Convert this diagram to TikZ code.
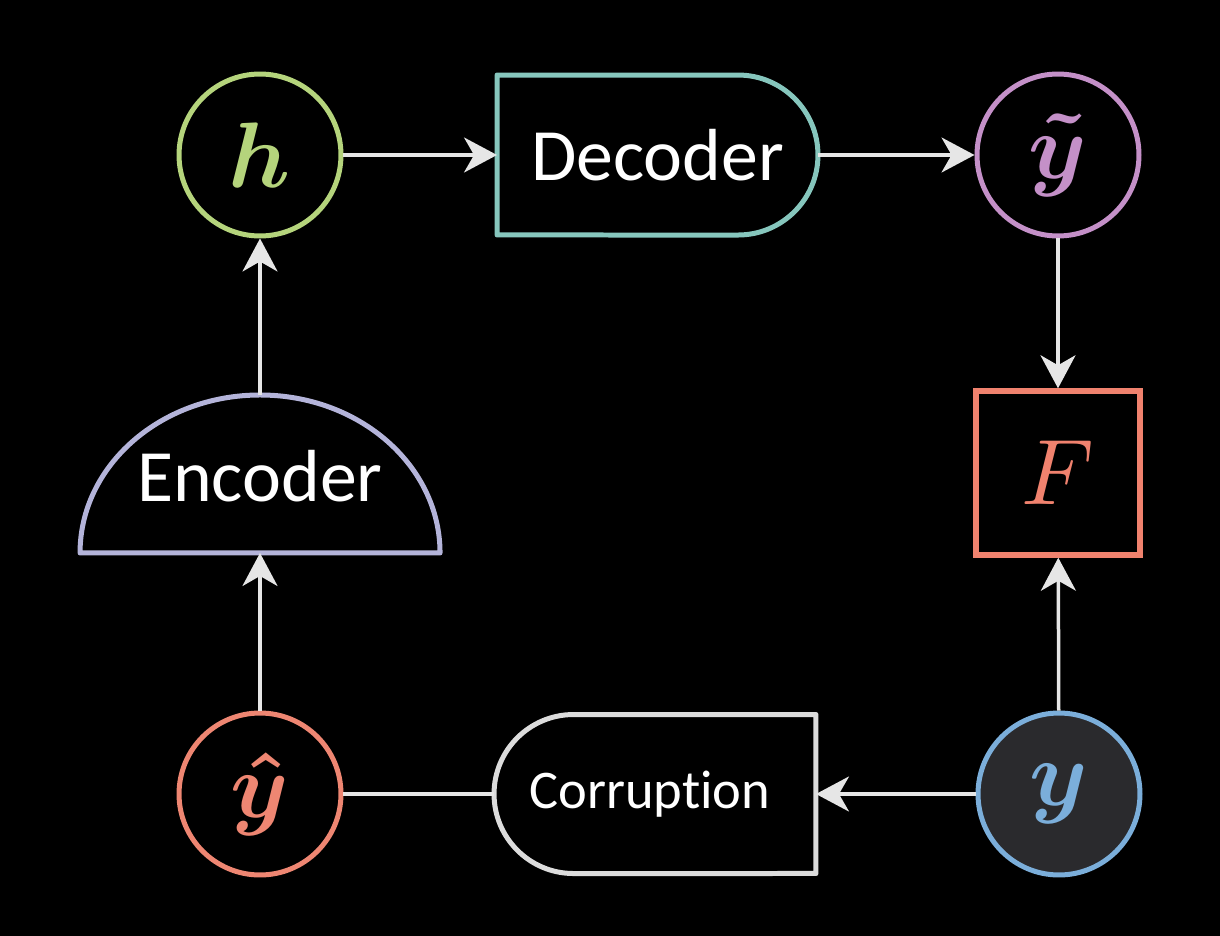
\documentclass[tikz,border=0pt]{standalone}
\usepackage{amsmath}
\usepackage{graphicx}
\usepackage{fontspec}
\setmainfont{Carlito}[Ligatures=NoCommon]
\usetikzlibrary{arrows.meta,calc}
\definecolor{hgreen}{HTML}{B5D47C}
\definecolor{decteal}{HTML}{86C6BD}
\definecolor{ytpurple}{HTML}{C490C8}
\definecolor{fsalmon}{HTML}{F0826E}
\definecolor{yblue}{HTML}{7BAEDA}
\definecolor{yfill}{HTML}{2A2A2D}
\definecolor{yhsalmon}{HTML}{EE8672}
\definecolor{corgrey}{HTML}{DCDCDC}
\definecolor{enclav}{HTML}{B4B4DA}
\definecolor{arrowc}{HTML}{E6E6E6}
\newcommand{\bigmath}[1]{\scalebox{5.3}{$#1$}}
\tikzset{
  varcircle/.style={circle, draw, line width=0.1cm, minimum size=3.24cm, inner sep=0pt},
  blockbox/.style={rectangle, inner sep=0pt, outer sep=0pt, text=white},
  outline/.style={line width=0.1cm, line join=round},
  arr/.style={draw=arrowc, line width=0.07cm, -{Stealth[length=0.66cm,width=0.7cm,inset=0.2cm]}},
  plainline/.style={draw=arrowc, line width=0.07cm},
}
\begin{document}
\begin{tikzpicture}[x=0.02cm,y=-0.02cm]
\fill[black] (0,0) rectangle (1220,936);
\useasboundingbox (0,0) rectangle (1220,936);

% variable circles
\node[varcircle, draw=hgreen, text=hgreen] (h) at (260,155) {\bigmath{\boldsymbol{h}}};
\node[varcircle, draw=ytpurple, text=ytpurple] (yt) at (1058,155) {\bigmath{\boldsymbol{\tilde{y}}}};
\node[varcircle, draw=yblue, fill=yfill, text=yblue] (y) at (1059,794) {\bigmath{\boldsymbol{y}}};
\node[varcircle, draw=yhsalmon, text=yhsalmon] (yh) at (260,794) {\bigmath{\boldsymbol{\hat{y}}}};

% F box
\node[rectangle, draw=fsalmon, line width=0.11cm, minimum size=3.28cm, inner sep=0pt, text=fsalmon] (F) at (1058,473) {\bigmath{F}};

% Decoder
\node[blockbox, minimum width=6.42cm, minimum height=3.2cm, font=\fontsize{42}{50}\selectfont] (dec) at (657.5,155) {Decoder};
\draw[outline, draw=decteal] (dec.north west) -- ($(dec.north east)+(-80,0)$)
  arc[start angle=-90, end angle=90, radius=80] -- (dec.south west) -- cycle;

% Encoder
\node[blockbox, minimum width=7.2cm, minimum height=3.16cm] (enc) at (260,474) {};
\draw[outline, draw=enclav] (enc.south west)
  arc[start angle=180, end angle=360, x radius=180, y radius=158] -- cycle;
\node[text=white, font=\fontsize{42}{50}\selectfont] (enctext) at (260,476) {Encoder};

% Corruption
\node[blockbox, minimum width=6.44cm, minimum height=3.18cm, font=\fontsize{31}{38}\selectfont] (cor) at (655,794) {\hspace*{-6pt}Corruption};
\draw[outline, draw=corgrey] (cor.north east) -- ($(cor.north west)+(79.5,0)$)
  arc[start angle=-90, end angle=-270, radius=79.5] -- (cor.south east) -- cycle;

% connectors
\draw[arr] (h) -- (dec);
\draw[arr] (dec) -- (yt);
\draw[arr] (yt) -- (F);
\draw[arr] (y) -- (F);
\draw[arr] (y) -- (cor);
\draw[plainline] (cor) -- (yh);
\draw[arr] (yh) -- (enc);
\draw[arr] (enc) -- (h);
\end{tikzpicture}
\end{document}
